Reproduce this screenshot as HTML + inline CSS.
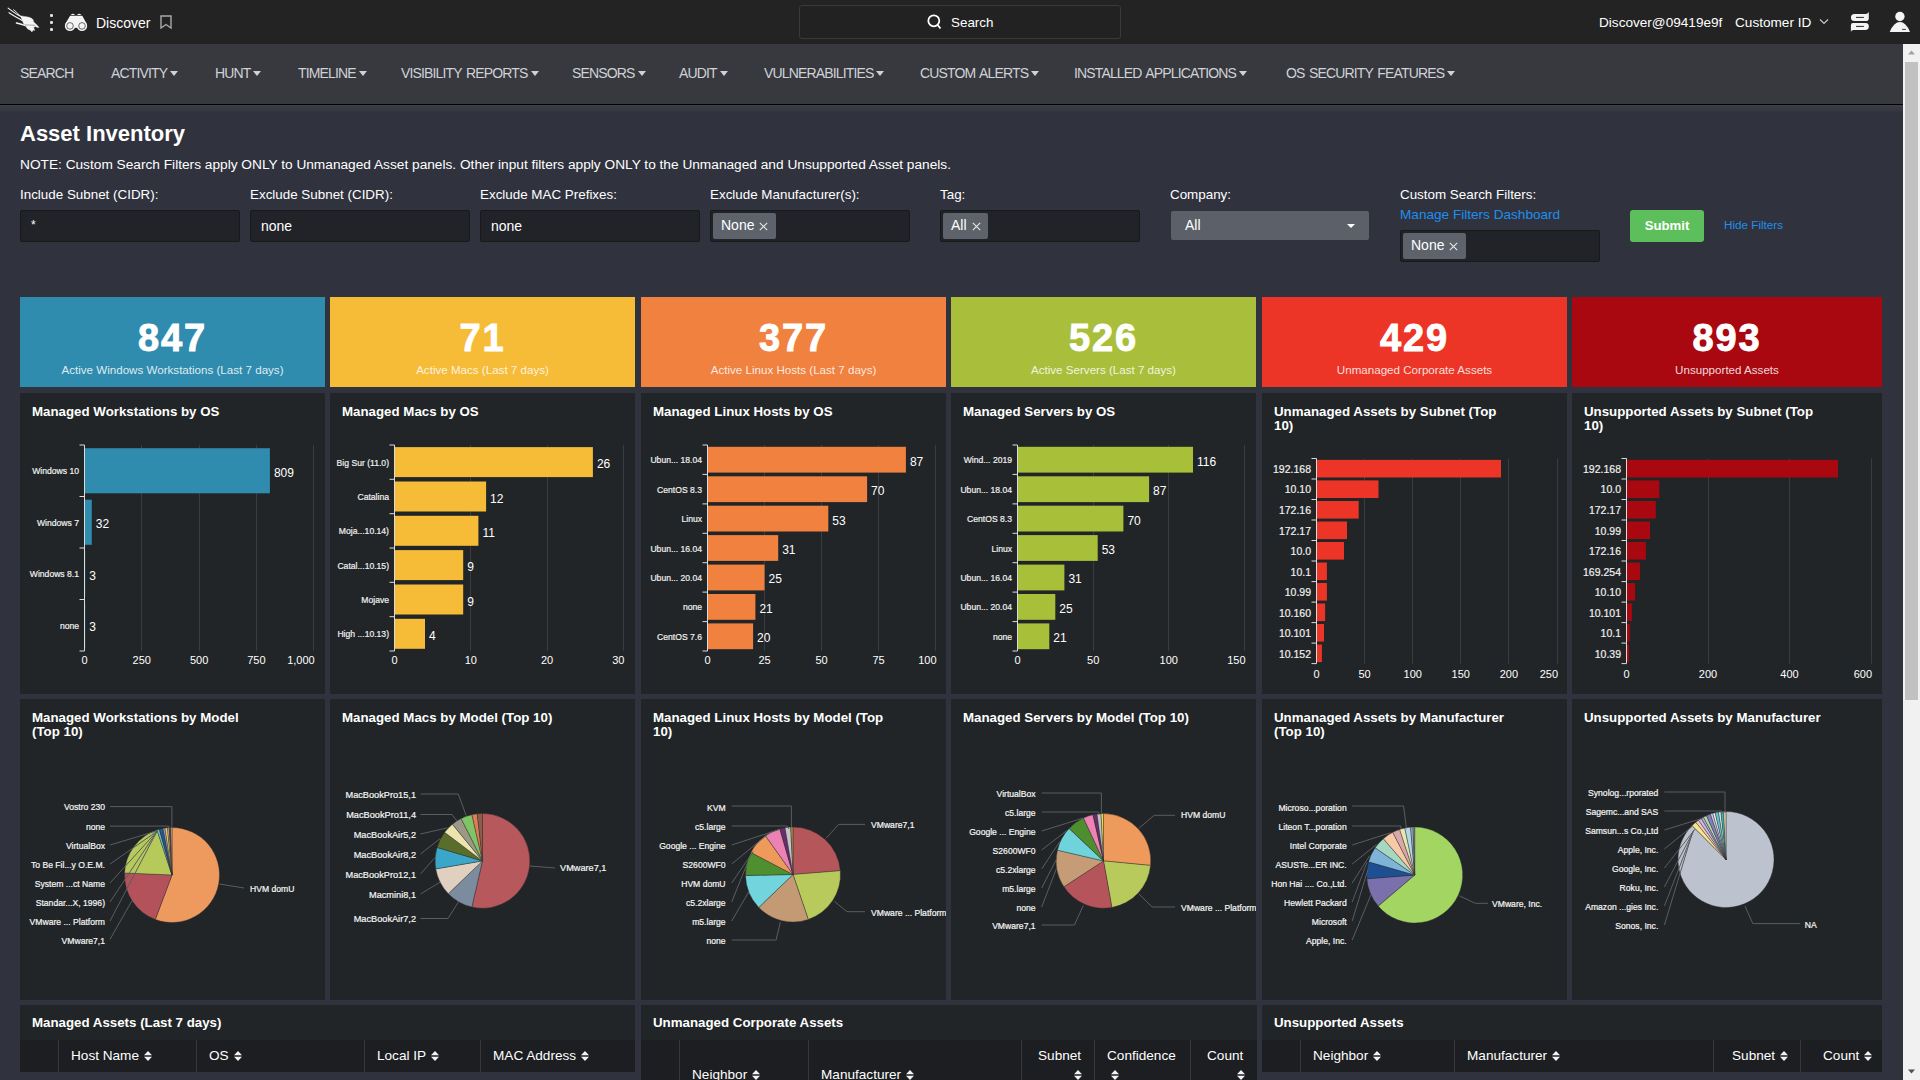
<!DOCTYPE html>
<html><head><meta charset="utf-8"><title>Asset Inventory</title><style>
*{margin:0;padding:0;box-sizing:border-box}
html,body{width:1920px;height:1080px;overflow:hidden;background:#30333e;font-family:"Liberation Sans", sans-serif;color:#fff}
.a{position:absolute}
.top{left:0;top:0;width:1920px;height:44px;background:#232323}
.nav{left:0;top:44px;width:1903px;height:61px;background:#38393e;border-bottom:1px solid #02020a}
.nav span{position:absolute;top:21px;font-size:14px;color:#cfd2d8;white-space:nowrap;letter-spacing:-0.85px;word-spacing:1.5px}
.nav span i{display:inline-block;width:0;height:0;border-left:4px solid transparent;border-right:4px solid transparent;border-top:5px solid #cfd2d8;margin-left:3px;vertical-align:2px}
.lbl{font-size:13.4px;color:#fff;white-space:nowrap}
.inp{background:#212328;border:1px solid #18191b;border-radius:2px}
.tok{background:#5d626b;border-radius:2px;color:#fff;font-size:14px}
.tile{top:297px;height:90px;text-align:center;color:#fff}
.tile b{display:block;font-size:38px;letter-spacing:1.8px;line-height:38px;margin-top:22px;font-weight:bold;-webkit-text-stroke:0.9px #fff}
.tile s{display:block;text-decoration:none;font-size:11.6px;margin-top:6px;color:rgba(255,255,255,0.85)}
.panel{background:#212527}
.pt{position:absolute;left:12px;top:12px;font-size:13.3px;font-weight:bold;line-height:14px;color:#fff;white-space:nowrap}
.th{position:absolute;top:1040px;height:32px;background:#1c1e21}
.th span{position:absolute;top:8px;font-size:13.6px;color:#fff;white-space:nowrap}
.th em{position:absolute;top:0;width:1px;height:32px;background:#34373b}
.srt{display:inline-block;width:8px;height:10px;vertical-align:-0.5px;margin-left:5px}
</style></head>
<body>
<div class="a top"></div>
<svg class="a" style="left:4px;top:4px" width="40" height="32" viewBox="0 0 40 32">
<path d="M4.1,4.1 Q9,7.8 13.3,10.6 Q15.5,11.8 17.4,12.8" stroke="#f4f4f4" stroke-width="1.1" fill="none" stroke-linecap="round"/>
<path d="M9.6,5.7 Q13,8.4 16,11.8 L17.6,13.6" stroke="#f4f4f4" stroke-width="0.9" fill="none" stroke-linecap="round"/>
<path d="M5,8.7 Q9,11.3 13.3,13.8 Q15.8,15.2 17.8,16.4" stroke="#f4f4f4" stroke-width="1.1" fill="none" stroke-linecap="round"/>
<path d="M12.4,19 Q16.5,20 20.7,21.4" stroke="#f4f4f4" stroke-width="1.5" fill="none" stroke-linecap="round"/>
<path d="M16.6,11.9 L20.7,12.4 L25.2,13.3 L27.9,14.5 L29.3,16 L29.5,17.8 L31.1,19.3 L33.2,21.3 L35,23.4 L33.5,23.4 L31.4,22.5 L29.6,23.4 L30.8,26.4 L29.3,26.1 L27.9,27.9 L26.7,26.4 L23.7,24.9 L21.9,22.5 L20.7,21.3 L19.3,19 L17.8,15.4 Z" fill="#f4f4f4" stroke="#f4f4f4" stroke-width="0.4" stroke-linejoin="round"/>
<path d="M20.7,20.9 Q26,21 31.1,21.3" stroke="#555" stroke-width="0.5" fill="none"/>
</svg>
<div class="a" style="left:50px;top:14px;width:3px;height:3px;background:#ddd;border-radius:1px"></div>
<div class="a" style="left:50px;top:21px;width:3px;height:3px;background:#ddd;border-radius:1px"></div>
<div class="a" style="left:50px;top:28px;width:3px;height:3px;background:#ddd;border-radius:1px"></div>
<svg class="a" style="left:60px;top:8px" width="32" height="28" viewBox="0 0 32 28">
<path d="M10.8,7 Q12.9,4.3 15,7Z M17,7 Q19.1,4.3 21.3,7Z" fill="#f4f4f4"/>
<path d="M10.1,7.8 H22.3 L26.5,15.5 L22,21 L16,19.8 L10,21 L5.5,15.5 Z" fill="#f4f4f4"/>
<circle cx="10" cy="17.9" r="5.2" fill="#f4f4f4"/><circle cx="22" cy="17.9" r="5.2" fill="#f4f4f4"/>
<circle cx="10" cy="17.9" r="3.3" fill="none" stroke="#444" stroke-width="0.8"/><circle cx="22" cy="17.9" r="3.3" fill="none" stroke="#444" stroke-width="0.8"/>
</svg>
<div class="a" style="left:96px;top:15px;font-size:14px;color:#fff">Discover</div>
<svg class="a" style="left:160px;top:15px" width="12" height="14" viewBox="0 0 12 14"><path d="M1 1H11V13L6 9.5L1 13Z" fill="none" stroke="#aaa" stroke-width="1.4"/></svg>
<div class="a" style="left:799px;top:5px;width:322px;height:34px;border:1px solid #3a3a3a;border-radius:3px;background:#222222"></div>
<svg class="a" style="left:927px;top:14px" width="15" height="16" viewBox="0 0 15 16"><circle cx="6.8" cy="6.8" r="5.5" fill="none" stroke="#fff" stroke-width="1.8"/><path d="M10.5 10.8L13.5 14.5" stroke="#fff" stroke-width="1.8"/></svg>
<div class="a" style="left:951px;top:15px;font-size:13.4px;color:#fff">Search</div>
<div class="a" style="left:1599px;top:15px;font-size:13.6px;color:#fff">Discover@09419e9f</div>
<div class="a" style="left:1735px;top:15px;font-size:13.6px;color:#fff">Customer ID</div>
<svg class="a" style="left:1819px;top:19px" width="10" height="6" viewBox="0 0 10 6"><path d="M1 0.5L5 4.5L9 0.5" fill="none" stroke="#ccc" stroke-width="1.1"/></svg>
<svg class="a" style="left:1844px;top:6px" width="30" height="30" viewBox="0 0 30 30">
<path d="M10.5,7.9 H22 Q24.3,7.5 24.8,5.8 V12.2 Q24.8,15 22,15 H10.5 A3.55,3.55 0 0 1 10.5,7.9 Z" fill="#f4f4f4"/>
<path d="M12,11.4 H19.9" stroke="#232323" stroke-width="1"/>
<path d="M9,17.1 H21.4 A3.45,3.45 0 0 1 21.4,24 H9.5 Q7.3,24.3 6.9,25.9 V19.3 Q6.9,17.1 9,17.1 Z" fill="#f4f4f4"/>
<path d="M12,20.4 H19.9" stroke="#232323" stroke-width="1"/>
</svg>
<svg class="a" style="left:1884px;top:6px" width="30" height="30" viewBox="0 0 30 30">
<circle cx="15.9" cy="10.5" r="4.7" fill="#f4f4f4"/><path d="M5.7,25.9 Q10,16.1 15.9,16.1 Q21.8,16.1 26,25.9 Z" fill="#f4f4f4"/><path d="M18.1,23.4 H21.9" stroke="#232323" stroke-width="0.9"/>
</svg>
<div class="a nav">
<span style="left:20px">SEARCH</span>
<span style="left:111px">ACTIVITY<i></i></span>
<span style="left:215px">HUNT<i></i></span>
<span style="left:298px">TIMELINE<i></i></span>
<span style="left:401px">VISIBILITY REPORTS<i></i></span>
<span style="left:572px">SENSORS<i></i></span>
<span style="left:679px">AUDIT<i></i></span>
<span style="left:764px">VULNERABILITIES<i></i></span>
<span style="left:920px">CUSTOM ALERTS<i></i></span>
<span style="left:1074px">INSTALLED APPLICATIONS<i></i></span>
<span style="left:1286px">OS SECURITY FEATURES<i></i></span>
</div>
<div class="a" style="left:0;top:105px;width:1903px;height:8px;background:linear-gradient(#3d3e45,#30333e)"></div>
<div class="a" style="left:1903px;top:44px;width:17px;height:1036px;background:#f1f1f1"></div>
<div class="a" style="left:1905px;top:62px;width:13px;height:638px;background:#c1c1c1"></div>
<svg class="a" style="left:1903px;top:44px" width="17" height="17"><path d="M5 10.5L8.5 6.5L12 10.5Z" fill="#a3a3a3"/></svg>
<svg class="a" style="left:1903px;top:1063px" width="17" height="17"><path d="M5 6.5L8.5 10.5L12 6.5Z" fill="#505050"/></svg>
<div class="a" style="left:20px;top:121px;font-size:22px;font-weight:bold;color:#fff">Asset Inventory</div>
<div class="a" style="left:20px;top:157px;font-size:13.7px;color:#fff;white-space:nowrap">NOTE: Custom Search Filters apply ONLY to Unmanaged Asset panels. Other input filters apply ONLY to the Unmanaged and Unsupported Asset panels.</div>
<div class="a lbl" style="left:20px;top:187px">Include Subnet (CIDR):</div>
<div class="a lbl" style="left:250px;top:187px">Exclude Subnet (CIDR):</div>
<div class="a lbl" style="left:480px;top:187px">Exclude MAC Prefixes:</div>
<div class="a lbl" style="left:710px;top:187px">Exclude Manufacturer(s):</div>
<div class="a lbl" style="left:940px;top:187px">Tag:</div>
<div class="a lbl" style="left:1170px;top:187px">Company:</div>
<div class="a lbl" style="left:1400px;top:187px">Custom Search Filters:</div>
<div class="a inp" style="left:20px;top:210px;width:220px;height:32px"></div>
<div class="a" style="left:31px;top:218px;font-size:12px;color:#fff">*</div>
<div class="a inp" style="left:250px;top:210px;width:220px;height:32px"></div>
<div class="a" style="left:261px;top:218px;font-size:14px;color:#fff">none</div>
<div class="a inp" style="left:480px;top:210px;width:220px;height:32px"></div>
<div class="a" style="left:491px;top:218px;font-size:14px;color:#fff">none</div>
<div class="a inp" style="left:710px;top:210px;width:200px;height:32px"></div>
<div class="a tok" style="left:713px;top:213px;width:63px;height:26px;padding:4px 0 0 8px">None<svg width="9" height="9" viewBox="0 0 9 9" style="margin-left:5px;vertical-align:-0.5px"><path d="M0.8 0.8L8.2 8.2M8.2 0.8L0.8 8.2" stroke="#e8e8e8" stroke-width="1.1"/></svg></div>
<div class="a inp" style="left:940px;top:210px;width:200px;height:32px"></div>
<div class="a tok" style="left:943px;top:213px;width:45px;height:26px;padding:4px 0 0 8px">All<svg width="9" height="9" viewBox="0 0 9 9" style="margin-left:5px;vertical-align:-0.5px"><path d="M0.8 0.8L8.2 8.2M8.2 0.8L0.8 8.2" stroke="#e8e8e8" stroke-width="1.1"/></svg></div>
<div class="a" style="left:1171px;top:211px;width:198px;height:29px;background:#5c6068;border-radius:2px"></div>
<div class="a" style="left:1185px;top:217px;font-size:14px;color:#fff">All</div>
<div class="a" style="left:1347px;top:224px;width:0;height:0;border-left:4px solid transparent;border-right:4px solid transparent;border-top:4px solid #fff"></div>
<div class="a" style="left:1400px;top:207px;font-size:13.6px;color:#1d8fee;white-space:nowrap">Manage Filters Dashboard</div>
<div class="a inp" style="left:1400px;top:230px;width:200px;height:32px"></div>
<div class="a tok" style="left:1403px;top:233px;width:63px;height:26px;padding:4px 0 0 8px">None<svg width="9" height="9" viewBox="0 0 9 9" style="margin-left:5px;vertical-align:-0.5px"><path d="M0.8 0.8L8.2 8.2M8.2 0.8L0.8 8.2" stroke="#e8e8e8" stroke-width="1.1"/></svg></div>
<div class="a" style="left:1630px;top:210px;width:74px;height:32px;background:#5cbf5b;border-radius:3px;color:#fff;font-weight:bold;font-size:13.2px;text-align:center;line-height:32px">Submit</div>
<div class="a" style="left:1724px;top:218px;font-size:11.7px;color:#1d8fee">Hide Filters</div>
<div class="a tile" style="left:20px;width:305px;background:#2f8cae"><b>847</b><s>Active Windows Workstations (Last 7 days)</s></div>
<div class="a tile" style="left:330px;width:305px;background:#f6bb37"><b>71</b><s>Active Macs (Last 7 days)</s></div>
<div class="a tile" style="left:641px;width:305px;background:#f1813f"><b>377</b><s>Active Linux Hosts (Last 7 days)</s></div>
<div class="a tile" style="left:951px;width:305px;background:#a9bf3b"><b>526</b><s>Active Servers (Last 7 days)</s></div>
<div class="a tile" style="left:1262px;width:305px;background:#ec3526"><b>429</b><s>Unmanaged Corporate Assets</s></div>
<div class="a tile" style="left:1572px;width:310px;background:#aa0810"><b>893</b><s>Unsupported Assets</s></div>
<div class="a panel" style="left:20px;top:393px;width:305px;height:301px"><div class="pt">Managed Workstations by OS</div></div>
<div class="a panel" style="left:330px;top:393px;width:305px;height:301px"><div class="pt">Managed Macs by OS</div></div>
<div class="a panel" style="left:641px;top:393px;width:305px;height:301px"><div class="pt">Managed Linux Hosts by OS</div></div>
<div class="a panel" style="left:951px;top:393px;width:305px;height:301px"><div class="pt">Managed Servers by OS</div></div>
<div class="a panel" style="left:1262px;top:393px;width:305px;height:301px"><div class="pt">Unmanaged Assets by Subnet (Top<br>10)</div></div>
<div class="a panel" style="left:1572px;top:393px;width:310px;height:301px"><div class="pt">Unsupported Assets by Subnet (Top<br>10)</div></div>
<div class="a panel" style="left:20px;top:699px;width:305px;height:301px"><div class="pt">Managed Workstations by Model<br>(Top 10)</div></div>
<div class="a panel" style="left:330px;top:699px;width:305px;height:301px"><div class="pt">Managed Macs by Model (Top 10)</div></div>
<div class="a panel" style="left:641px;top:699px;width:305px;height:301px"><div class="pt">Managed Linux Hosts by Model (Top<br>10)</div></div>
<div class="a panel" style="left:951px;top:699px;width:305px;height:301px"><div class="pt">Managed Servers by Model (Top 10)</div></div>
<div class="a panel" style="left:1262px;top:699px;width:305px;height:301px"><div class="pt">Unmanaged Assets by Manufacturer<br>(Top 10)</div></div>
<div class="a panel" style="left:1572px;top:699px;width:310px;height:301px"><div class="pt">Unsupported Assets by Manufacturer</div></div>
<div class="a panel" style="left:20px;top:1005px;width:615px;height:35px"><div class="pt" style="top:11px">Managed Assets (Last 7 days)</div></div>
<div class="a panel" style="left:641px;top:1005px;width:616px;height:35px"><div class="pt" style="top:11px">Unmanaged Corporate Assets</div></div>
<div class="a panel" style="left:1262px;top:1005px;width:620px;height:35px"><div class="pt" style="top:11px">Unsupported Assets</div></div>
<div class="th" style="left:20px;width:615px"><em style="left:38px"></em><em style="left:176px"></em><em style="left:344px"></em><em style="left:460px"></em><span style="left:51px">Host Name<svg class="srt" viewBox="0 0 8 10"><path d="M4 0L8 4.3H0Z M4 10L8 5.7H0Z" fill="#f2f2f2"/></svg></span><span style="left:189px">OS<svg class="srt" viewBox="0 0 8 10"><path d="M4 0L8 4.3H0Z M4 10L8 5.7H0Z" fill="#f2f2f2"/></svg></span><span style="left:357px">Local IP<svg class="srt" viewBox="0 0 8 10"><path d="M4 0L8 4.3H0Z M4 10L8 5.7H0Z" fill="#f2f2f2"/></svg></span><span style="left:473px">MAC Address<svg class="srt" viewBox="0 0 8 10"><path d="M4 0L8 4.3H0Z M4 10L8 5.7H0Z" fill="#f2f2f2"/></svg></span></div>
<div class="th" style="left:641px;width:616px;height:40px"><em style="left:38px;height:40px"></em><em style="left:167px;height:40px"></em><em style="left:380px;height:40px"></em><em style="left:453px;height:40px"></em><em style="left:549px;height:40px"></em><span style="left:51px;top:27px">Neighbor<svg class="srt" viewBox="0 0 8 10"><path d="M4 0L8 4.3H0Z M4 10L8 5.7H0Z" fill="#f2f2f2"/></svg></span><span style="left:180px;top:27px">Manufacturer<svg class="srt" viewBox="0 0 8 10"><path d="M4 0L8 4.3H0Z M4 10L8 5.7H0Z" fill="#f2f2f2"/></svg></span><span style="left:397px">Subnet</span><span style="left:466px">Confidence</span><span style="left:566px">Count</span><svg style="position:absolute;left:433px;top:30px" width="8" height="10" viewBox="0 0 8 10"><path d="M4 0L8 4.3H0Z M4 10L8 5.7H0Z" fill="#f2f2f2"/></svg><svg style="position:absolute;left:470px;top:30px" width="8" height="10" viewBox="0 0 8 10"><path d="M4 0L8 4.3H0Z M4 10L8 5.7H0Z" fill="#f2f2f2"/></svg><svg style="position:absolute;left:596px;top:30px" width="8" height="10" viewBox="0 0 8 10"><path d="M4 0L8 4.3H0Z M4 10L8 5.7H0Z" fill="#f2f2f2"/></svg></div>
<div class="th" style="left:1262px;width:620px"><em style="left:38px"></em><em style="left:192px"></em><em style="left:451px"></em><em style="left:538px"></em><span style="left:51px">Neighbor<svg class="srt" viewBox="0 0 8 10"><path d="M4 0L8 4.3H0Z M4 10L8 5.7H0Z" fill="#f2f2f2"/></svg></span><span style="left:205px">Manufacturer<svg class="srt" viewBox="0 0 8 10"><path d="M4 0L8 4.3H0Z M4 10L8 5.7H0Z" fill="#f2f2f2"/></svg></span><span style="left:470px">Subnet<svg class="srt" viewBox="0 0 8 10"><path d="M4 0L8 4.3H0Z M4 10L8 5.7H0Z" fill="#f2f2f2"/></svg></span><span style="left:561px">Count<svg class="srt" viewBox="0 0 8 10"><path d="M4 0L8 4.3H0Z M4 10L8 5.7H0Z" fill="#f2f2f2"/></svg></span></div>
<svg class="a" style="left:0;top:0;font-family:"Liberation Sans", sans-serif" width="1903" height="1080"><line x1="141.5" y1="445.0" x2="141.5" y2="651.0" stroke="#3a3d40" stroke-width="1"/><line x1="199.5" y1="445.0" x2="199.5" y2="651.0" stroke="#3a3d40" stroke-width="1"/><line x1="256.5" y1="445.0" x2="256.5" y2="651.0" stroke="#3a3d40" stroke-width="1"/><line x1="313.5" y1="445.0" x2="313.5" y2="651.0" stroke="#3a3d40" stroke-width="1"/><rect x="84.5" y="448.2" width="185.4" height="45.1" fill="#2f8cae"/><text x="79.0" y="474.3" font-size="8.6" fill="#f0f0f0" font-weight="normal" text-anchor="end" stroke="#f0f0f0" stroke-width="0.2">Windows 10</text><text x="273.9" y="476.8" font-size="12" fill="#fff" font-weight="normal" text-anchor="start" >809</text><rect x="84.5" y="499.7" width="7.3" height="45.1" fill="#2f8cae"/><text x="79.0" y="525.8" font-size="8.6" fill="#f0f0f0" font-weight="normal" text-anchor="end" stroke="#f0f0f0" stroke-width="0.2">Windows 7</text><text x="95.8" y="528.2" font-size="12" fill="#fff" font-weight="normal" text-anchor="start" >32</text><rect x="84.5" y="551.2" width="0.7" height="45.1" fill="#2f8cae"/><text x="79.0" y="577.3" font-size="8.6" fill="#f0f0f0" font-weight="normal" text-anchor="end" stroke="#f0f0f0" stroke-width="0.2">Windows 8.1</text><text x="89.2" y="579.8" font-size="12" fill="#fff" font-weight="normal" text-anchor="start" >3</text><rect x="84.5" y="602.7" width="0.7" height="45.1" fill="#2f8cae"/><text x="79.0" y="628.8" font-size="8.6" fill="#f0f0f0" font-weight="normal" text-anchor="end" stroke="#f0f0f0" stroke-width="0.2">none</text><text x="89.2" y="631.2" font-size="12" fill="#fff" font-weight="normal" text-anchor="start" >3</text><line x1="84.5" y1="445.0" x2="84.5" y2="651.0" stroke="#dcdcdc" stroke-width="1"/><line x1="79.5" y1="445.0" x2="84.5" y2="445.0" stroke="#dcdcdc" stroke-width="1"/><line x1="79.5" y1="496.5" x2="84.5" y2="496.5" stroke="#dcdcdc" stroke-width="1"/><line x1="79.5" y1="548.0" x2="84.5" y2="548.0" stroke="#dcdcdc" stroke-width="1"/><line x1="79.5" y1="599.5" x2="84.5" y2="599.5" stroke="#dcdcdc" stroke-width="1"/><line x1="79.5" y1="651.0" x2="84.5" y2="651.0" stroke="#dcdcdc" stroke-width="1"/><text x="84.5" y="664.0" font-size="11" fill="#fff" font-weight="normal" text-anchor="middle" >0</text><text x="141.8" y="664.0" font-size="11" fill="#fff" font-weight="normal" text-anchor="middle" >250</text><text x="199.1" y="664.0" font-size="11" fill="#fff" font-weight="normal" text-anchor="middle" >500</text><text x="256.4" y="664.0" font-size="11" fill="#fff" font-weight="normal" text-anchor="middle" >750</text><text x="314.7" y="664.0" font-size="11" fill="#fff" font-weight="normal" text-anchor="end" >1,000</text><line x1="470.5" y1="445.0" x2="470.5" y2="651.0" stroke="#3a3d40" stroke-width="1"/><line x1="547.5" y1="445.0" x2="547.5" y2="651.0" stroke="#3a3d40" stroke-width="1"/><line x1="623.5" y1="445.0" x2="623.5" y2="651.0" stroke="#3a3d40" stroke-width="1"/><rect x="394.5" y="447.1" width="198.4" height="30.0" fill="#f6bb37"/><text x="389.0" y="465.7" font-size="8.6" fill="#f0f0f0" font-weight="normal" text-anchor="end" stroke="#f0f0f0" stroke-width="0.2">Big Sur (11.0)</text><text x="596.9" y="468.2" font-size="12" fill="#fff" font-weight="normal" text-anchor="start" >26</text><rect x="394.5" y="481.5" width="91.6" height="30.0" fill="#f6bb37"/><text x="389.0" y="500.0" font-size="8.6" fill="#f0f0f0" font-weight="normal" text-anchor="end" stroke="#f0f0f0" stroke-width="0.2">Catalina</text><text x="490.1" y="502.5" font-size="12" fill="#fff" font-weight="normal" text-anchor="start" >12</text><rect x="394.5" y="515.8" width="83.9" height="30.0" fill="#f6bb37"/><text x="389.0" y="534.3" font-size="8.6" fill="#f0f0f0" font-weight="normal" text-anchor="end" stroke="#f0f0f0" stroke-width="0.2">Moja...10.14)</text><text x="482.4" y="536.8" font-size="12" fill="#fff" font-weight="normal" text-anchor="start" >11</text><rect x="394.5" y="550.1" width="68.7" height="30.0" fill="#f6bb37"/><text x="389.0" y="568.7" font-size="8.6" fill="#f0f0f0" font-weight="normal" text-anchor="end" stroke="#f0f0f0" stroke-width="0.2">Catal...10.15)</text><text x="467.2" y="571.2" font-size="12" fill="#fff" font-weight="normal" text-anchor="start" >9</text><rect x="394.5" y="584.5" width="68.7" height="30.0" fill="#f6bb37"/><text x="389.0" y="603.0" font-size="8.6" fill="#f0f0f0" font-weight="normal" text-anchor="end" stroke="#f0f0f0" stroke-width="0.2">Mojave</text><text x="467.2" y="605.5" font-size="12" fill="#fff" font-weight="normal" text-anchor="start" >9</text><rect x="394.5" y="618.8" width="30.5" height="30.0" fill="#f6bb37"/><text x="389.0" y="637.3" font-size="8.6" fill="#f0f0f0" font-weight="normal" text-anchor="end" stroke="#f0f0f0" stroke-width="0.2">High ...10.13)</text><text x="429.0" y="639.8" font-size="12" fill="#fff" font-weight="normal" text-anchor="start" >4</text><line x1="394.5" y1="445.0" x2="394.5" y2="651.0" stroke="#dcdcdc" stroke-width="1"/><line x1="389.5" y1="445.0" x2="394.5" y2="445.0" stroke="#dcdcdc" stroke-width="1"/><line x1="389.5" y1="479.3" x2="394.5" y2="479.3" stroke="#dcdcdc" stroke-width="1"/><line x1="389.5" y1="513.7" x2="394.5" y2="513.7" stroke="#dcdcdc" stroke-width="1"/><line x1="389.5" y1="548.0" x2="394.5" y2="548.0" stroke="#dcdcdc" stroke-width="1"/><line x1="389.5" y1="582.3" x2="394.5" y2="582.3" stroke="#dcdcdc" stroke-width="1"/><line x1="389.5" y1="616.7" x2="394.5" y2="616.7" stroke="#dcdcdc" stroke-width="1"/><line x1="389.5" y1="651.0" x2="394.5" y2="651.0" stroke="#dcdcdc" stroke-width="1"/><text x="394.5" y="664.0" font-size="11" fill="#fff" font-weight="normal" text-anchor="middle" >0</text><text x="470.8" y="664.0" font-size="11" fill="#fff" font-weight="normal" text-anchor="middle" >10</text><text x="547.1" y="664.0" font-size="11" fill="#fff" font-weight="normal" text-anchor="middle" >20</text><text x="624.4" y="664.0" font-size="11" fill="#fff" font-weight="normal" text-anchor="end" >30</text><line x1="764.5" y1="445.0" x2="764.5" y2="651.0" stroke="#3a3d40" stroke-width="1"/><line x1="821.5" y1="445.0" x2="821.5" y2="651.0" stroke="#3a3d40" stroke-width="1"/><line x1="878.5" y1="445.0" x2="878.5" y2="651.0" stroke="#3a3d40" stroke-width="1"/><line x1="935.5" y1="445.0" x2="935.5" y2="651.0" stroke="#3a3d40" stroke-width="1"/><rect x="707.5" y="446.8" width="198.4" height="25.8" fill="#f1813f"/><text x="702.0" y="463.2" font-size="8.6" fill="#f0f0f0" font-weight="normal" text-anchor="end" stroke="#f0f0f0" stroke-width="0.2">Ubun... 18.04</text><text x="909.9" y="465.7" font-size="12" fill="#fff" font-weight="normal" text-anchor="start" >87</text><rect x="707.5" y="476.3" width="159.6" height="25.8" fill="#f1813f"/><text x="702.0" y="492.7" font-size="8.6" fill="#f0f0f0" font-weight="normal" text-anchor="end" stroke="#f0f0f0" stroke-width="0.2">CentOS 8.3</text><text x="871.1" y="495.1" font-size="12" fill="#fff" font-weight="normal" text-anchor="start" >70</text><rect x="707.5" y="505.7" width="120.8" height="25.8" fill="#f1813f"/><text x="702.0" y="522.1" font-size="8.6" fill="#f0f0f0" font-weight="normal" text-anchor="end" stroke="#f0f0f0" stroke-width="0.2">Linux</text><text x="832.3" y="524.6" font-size="12" fill="#fff" font-weight="normal" text-anchor="start" >53</text><rect x="707.5" y="535.1" width="70.7" height="25.8" fill="#f1813f"/><text x="702.0" y="551.5" font-size="8.6" fill="#f0f0f0" font-weight="normal" text-anchor="end" stroke="#f0f0f0" stroke-width="0.2">Ubun... 16.04</text><text x="782.2" y="554.0" font-size="12" fill="#fff" font-weight="normal" text-anchor="start" >31</text><rect x="707.5" y="564.6" width="57.0" height="25.8" fill="#f1813f"/><text x="702.0" y="580.9" font-size="8.6" fill="#f0f0f0" font-weight="normal" text-anchor="end" stroke="#f0f0f0" stroke-width="0.2">Ubun... 20.04</text><text x="768.5" y="583.4" font-size="12" fill="#fff" font-weight="normal" text-anchor="start" >25</text><rect x="707.5" y="594.0" width="47.9" height="25.8" fill="#f1813f"/><text x="702.0" y="610.4" font-size="8.6" fill="#f0f0f0" font-weight="normal" text-anchor="end" stroke="#f0f0f0" stroke-width="0.2">none</text><text x="759.4" y="612.9" font-size="12" fill="#fff" font-weight="normal" text-anchor="start" >21</text><rect x="707.5" y="623.4" width="45.6" height="25.8" fill="#f1813f"/><text x="702.0" y="639.8" font-size="8.6" fill="#f0f0f0" font-weight="normal" text-anchor="end" stroke="#f0f0f0" stroke-width="0.2">CentOS 7.6</text><text x="757.1" y="642.3" font-size="12" fill="#fff" font-weight="normal" text-anchor="start" >20</text><line x1="707.5" y1="445.0" x2="707.5" y2="651.0" stroke="#dcdcdc" stroke-width="1"/><line x1="702.5" y1="445.0" x2="707.5" y2="445.0" stroke="#dcdcdc" stroke-width="1"/><line x1="702.5" y1="474.4" x2="707.5" y2="474.4" stroke="#dcdcdc" stroke-width="1"/><line x1="702.5" y1="503.9" x2="707.5" y2="503.9" stroke="#dcdcdc" stroke-width="1"/><line x1="702.5" y1="533.3" x2="707.5" y2="533.3" stroke="#dcdcdc" stroke-width="1"/><line x1="702.5" y1="562.7" x2="707.5" y2="562.7" stroke="#dcdcdc" stroke-width="1"/><line x1="702.5" y1="592.1" x2="707.5" y2="592.1" stroke="#dcdcdc" stroke-width="1"/><line x1="702.5" y1="621.6" x2="707.5" y2="621.6" stroke="#dcdcdc" stroke-width="1"/><line x1="702.5" y1="651.0" x2="707.5" y2="651.0" stroke="#dcdcdc" stroke-width="1"/><text x="707.5" y="664.0" font-size="11" fill="#fff" font-weight="normal" text-anchor="middle" >0</text><text x="764.5" y="664.0" font-size="11" fill="#fff" font-weight="normal" text-anchor="middle" >25</text><text x="821.5" y="664.0" font-size="11" fill="#fff" font-weight="normal" text-anchor="middle" >50</text><text x="878.5" y="664.0" font-size="11" fill="#fff" font-weight="normal" text-anchor="middle" >75</text><text x="936.5" y="664.0" font-size="11" fill="#fff" font-weight="normal" text-anchor="end" >100</text><line x1="1093.5" y1="445.0" x2="1093.5" y2="651.0" stroke="#3a3d40" stroke-width="1"/><line x1="1168.5" y1="445.0" x2="1168.5" y2="651.0" stroke="#3a3d40" stroke-width="1"/><line x1="1244.5" y1="445.0" x2="1244.5" y2="651.0" stroke="#3a3d40" stroke-width="1"/><rect x="1017.5" y="446.8" width="175.5" height="25.8" fill="#a8bf3a"/><text x="1012.0" y="463.2" font-size="8.6" fill="#f0f0f0" font-weight="normal" text-anchor="end" stroke="#f0f0f0" stroke-width="0.2">Wind... 2019</text><text x="1197.0" y="465.7" font-size="12" fill="#fff" font-weight="normal" text-anchor="start" >116</text><rect x="1017.5" y="476.3" width="131.6" height="25.8" fill="#a8bf3a"/><text x="1012.0" y="492.7" font-size="8.6" fill="#f0f0f0" font-weight="normal" text-anchor="end" stroke="#f0f0f0" stroke-width="0.2">Ubun... 18.04</text><text x="1153.1" y="495.1" font-size="12" fill="#fff" font-weight="normal" text-anchor="start" >87</text><rect x="1017.5" y="505.7" width="105.9" height="25.8" fill="#a8bf3a"/><text x="1012.0" y="522.1" font-size="8.6" fill="#f0f0f0" font-weight="normal" text-anchor="end" stroke="#f0f0f0" stroke-width="0.2">CentOS 8.3</text><text x="1127.4" y="524.6" font-size="12" fill="#fff" font-weight="normal" text-anchor="start" >70</text><rect x="1017.5" y="535.1" width="80.2" height="25.8" fill="#a8bf3a"/><text x="1012.0" y="551.5" font-size="8.6" fill="#f0f0f0" font-weight="normal" text-anchor="end" stroke="#f0f0f0" stroke-width="0.2">Linux</text><text x="1101.7" y="554.0" font-size="12" fill="#fff" font-weight="normal" text-anchor="start" >53</text><rect x="1017.5" y="564.6" width="46.9" height="25.8" fill="#a8bf3a"/><text x="1012.0" y="580.9" font-size="8.6" fill="#f0f0f0" font-weight="normal" text-anchor="end" stroke="#f0f0f0" stroke-width="0.2">Ubun... 16.04</text><text x="1068.4" y="583.4" font-size="12" fill="#fff" font-weight="normal" text-anchor="start" >31</text><rect x="1017.5" y="594.0" width="37.8" height="25.8" fill="#a8bf3a"/><text x="1012.0" y="610.4" font-size="8.6" fill="#f0f0f0" font-weight="normal" text-anchor="end" stroke="#f0f0f0" stroke-width="0.2">Ubun... 20.04</text><text x="1059.3" y="612.9" font-size="12" fill="#fff" font-weight="normal" text-anchor="start" >25</text><rect x="1017.5" y="623.4" width="31.8" height="25.8" fill="#a8bf3a"/><text x="1012.0" y="639.8" font-size="8.6" fill="#f0f0f0" font-weight="normal" text-anchor="end" stroke="#f0f0f0" stroke-width="0.2">none</text><text x="1053.3" y="642.3" font-size="12" fill="#fff" font-weight="normal" text-anchor="start" >21</text><line x1="1017.5" y1="445.0" x2="1017.5" y2="651.0" stroke="#dcdcdc" stroke-width="1"/><line x1="1012.5" y1="445.0" x2="1017.5" y2="445.0" stroke="#dcdcdc" stroke-width="1"/><line x1="1012.5" y1="474.4" x2="1017.5" y2="474.4" stroke="#dcdcdc" stroke-width="1"/><line x1="1012.5" y1="503.9" x2="1017.5" y2="503.9" stroke="#dcdcdc" stroke-width="1"/><line x1="1012.5" y1="533.3" x2="1017.5" y2="533.3" stroke="#dcdcdc" stroke-width="1"/><line x1="1012.5" y1="562.7" x2="1017.5" y2="562.7" stroke="#dcdcdc" stroke-width="1"/><line x1="1012.5" y1="592.1" x2="1017.5" y2="592.1" stroke="#dcdcdc" stroke-width="1"/><line x1="1012.5" y1="621.6" x2="1017.5" y2="621.6" stroke="#dcdcdc" stroke-width="1"/><line x1="1012.5" y1="651.0" x2="1017.5" y2="651.0" stroke="#dcdcdc" stroke-width="1"/><text x="1017.5" y="664.0" font-size="11" fill="#fff" font-weight="normal" text-anchor="middle" >0</text><text x="1093.2" y="664.0" font-size="11" fill="#fff" font-weight="normal" text-anchor="middle" >50</text><text x="1168.8" y="664.0" font-size="11" fill="#fff" font-weight="normal" text-anchor="middle" >100</text><text x="1245.5" y="664.0" font-size="11" fill="#fff" font-weight="normal" text-anchor="end" >150</text><line x1="1364.5" y1="458.5" x2="1364.5" y2="663.6" stroke="#3a3d40" stroke-width="1"/><line x1="1412.5" y1="458.5" x2="1412.5" y2="663.6" stroke="#3a3d40" stroke-width="1"/><line x1="1460.5" y1="458.5" x2="1460.5" y2="663.6" stroke="#3a3d40" stroke-width="1"/><line x1="1508.5" y1="458.5" x2="1508.5" y2="663.6" stroke="#3a3d40" stroke-width="1"/><line x1="1557.5" y1="458.5" x2="1557.5" y2="663.6" stroke="#3a3d40" stroke-width="1"/><rect x="1316.5" y="459.9" width="184.5" height="17.6" fill="#ec3526"/><text x="1311.0" y="472.9" font-size="10.5" fill="#f0f0f0" font-weight="normal" text-anchor="end" stroke="#f0f0f0" stroke-width="0.2">192.168</text><rect x="1316.5" y="480.4" width="62.0" height="17.6" fill="#ec3526"/><text x="1311.0" y="493.4" font-size="10.5" fill="#f0f0f0" font-weight="normal" text-anchor="end" stroke="#f0f0f0" stroke-width="0.2">10.10</text><rect x="1316.5" y="501.0" width="42.2" height="17.6" fill="#ec3526"/><text x="1311.0" y="513.9" font-size="10.5" fill="#f0f0f0" font-weight="normal" text-anchor="end" stroke="#f0f0f0" stroke-width="0.2">172.16</text><rect x="1316.5" y="521.5" width="30.5" height="17.6" fill="#ec3526"/><text x="1311.0" y="534.5" font-size="10.5" fill="#f0f0f0" font-weight="normal" text-anchor="end" stroke="#f0f0f0" stroke-width="0.2">172.17</text><rect x="1316.5" y="542.0" width="27.5" height="17.6" fill="#ec3526"/><text x="1311.0" y="555.0" font-size="10.5" fill="#f0f0f0" font-weight="normal" text-anchor="end" stroke="#f0f0f0" stroke-width="0.2">10.0</text><rect x="1316.5" y="562.5" width="10.4" height="17.6" fill="#ec3526"/><text x="1311.0" y="575.5" font-size="10.5" fill="#f0f0f0" font-weight="normal" text-anchor="end" stroke="#f0f0f0" stroke-width="0.2">10.1</text><rect x="1316.5" y="583.0" width="10.4" height="17.6" fill="#ec3526"/><text x="1311.0" y="596.0" font-size="10.5" fill="#f0f0f0" font-weight="normal" text-anchor="end" stroke="#f0f0f0" stroke-width="0.2">10.99</text><rect x="1316.5" y="603.5" width="8.6" height="17.6" fill="#ec3526"/><text x="1311.0" y="616.5" font-size="10.5" fill="#f0f0f0" font-weight="normal" text-anchor="end" stroke="#f0f0f0" stroke-width="0.2">10.160</text><rect x="1316.5" y="624.0" width="7.5" height="17.6" fill="#ec3526"/><text x="1311.0" y="637.0" font-size="10.5" fill="#f0f0f0" font-weight="normal" text-anchor="end" stroke="#f0f0f0" stroke-width="0.2">10.101</text><rect x="1316.5" y="644.5" width="5.4" height="17.6" fill="#ec3526"/><text x="1311.0" y="657.5" font-size="10.5" fill="#f0f0f0" font-weight="normal" text-anchor="end" stroke="#f0f0f0" stroke-width="0.2">10.152</text><line x1="1316.5" y1="458.5" x2="1316.5" y2="663.6" stroke="#dcdcdc" stroke-width="1"/><line x1="1311.5" y1="458.5" x2="1316.5" y2="458.5" stroke="#dcdcdc" stroke-width="1"/><line x1="1311.5" y1="479.0" x2="1316.5" y2="479.0" stroke="#dcdcdc" stroke-width="1"/><line x1="1311.5" y1="499.5" x2="1316.5" y2="499.5" stroke="#dcdcdc" stroke-width="1"/><line x1="1311.5" y1="520.0" x2="1316.5" y2="520.0" stroke="#dcdcdc" stroke-width="1"/><line x1="1311.5" y1="540.5" x2="1316.5" y2="540.5" stroke="#dcdcdc" stroke-width="1"/><line x1="1311.5" y1="561.0" x2="1316.5" y2="561.0" stroke="#dcdcdc" stroke-width="1"/><line x1="1311.5" y1="581.6" x2="1316.5" y2="581.6" stroke="#dcdcdc" stroke-width="1"/><line x1="1311.5" y1="602.1" x2="1316.5" y2="602.1" stroke="#dcdcdc" stroke-width="1"/><line x1="1311.5" y1="622.6" x2="1316.5" y2="622.6" stroke="#dcdcdc" stroke-width="1"/><line x1="1311.5" y1="643.1" x2="1316.5" y2="643.1" stroke="#dcdcdc" stroke-width="1"/><line x1="1311.5" y1="663.6" x2="1316.5" y2="663.6" stroke="#dcdcdc" stroke-width="1"/><text x="1316.5" y="678.0" font-size="11" fill="#fff" font-weight="normal" text-anchor="middle" >0</text><text x="1364.6" y="678.0" font-size="11" fill="#fff" font-weight="normal" text-anchor="middle" >50</text><text x="1412.7" y="678.0" font-size="11" fill="#fff" font-weight="normal" text-anchor="middle" >100</text><text x="1460.8" y="678.0" font-size="11" fill="#fff" font-weight="normal" text-anchor="middle" >150</text><text x="1508.9" y="678.0" font-size="11" fill="#fff" font-weight="normal" text-anchor="middle" >200</text><text x="1558.0" y="678.0" font-size="11" fill="#fff" font-weight="normal" text-anchor="end" >250</text><line x1="1708.5" y1="458.5" x2="1708.5" y2="663.6" stroke="#3a3d40" stroke-width="1"/><line x1="1789.5" y1="458.5" x2="1789.5" y2="663.6" stroke="#3a3d40" stroke-width="1"/><line x1="1871.5" y1="458.5" x2="1871.5" y2="663.6" stroke="#3a3d40" stroke-width="1"/><rect x="1626.5" y="459.9" width="211.5" height="17.6" fill="#aa0810"/><text x="1621.0" y="472.9" font-size="10.5" fill="#f0f0f0" font-weight="normal" text-anchor="end" stroke="#f0f0f0" stroke-width="0.2">192.168</text><rect x="1626.5" y="480.4" width="32.8" height="17.6" fill="#aa0810"/><text x="1621.0" y="493.4" font-size="10.5" fill="#f0f0f0" font-weight="normal" text-anchor="end" stroke="#f0f0f0" stroke-width="0.2">10.0</text><rect x="1626.5" y="501.0" width="29.3" height="17.6" fill="#aa0810"/><text x="1621.0" y="513.9" font-size="10.5" fill="#f0f0f0" font-weight="normal" text-anchor="end" stroke="#f0f0f0" stroke-width="0.2">172.17</text><rect x="1626.5" y="521.5" width="23.5" height="17.6" fill="#aa0810"/><text x="1621.0" y="534.5" font-size="10.5" fill="#f0f0f0" font-weight="normal" text-anchor="end" stroke="#f0f0f0" stroke-width="0.2">10.99</text><rect x="1626.5" y="542.0" width="19.4" height="17.6" fill="#aa0810"/><text x="1621.0" y="555.0" font-size="10.5" fill="#f0f0f0" font-weight="normal" text-anchor="end" stroke="#f0f0f0" stroke-width="0.2">172.16</text><rect x="1626.5" y="562.5" width="13.5" height="17.6" fill="#aa0810"/><text x="1621.0" y="575.5" font-size="10.5" fill="#f0f0f0" font-weight="normal" text-anchor="end" stroke="#f0f0f0" stroke-width="0.2">169.254</text><rect x="1626.5" y="583.0" width="8.6" height="17.6" fill="#aa0810"/><text x="1621.0" y="596.0" font-size="10.5" fill="#f0f0f0" font-weight="normal" text-anchor="end" stroke="#f0f0f0" stroke-width="0.2">10.10</text><rect x="1626.5" y="603.5" width="5.4" height="17.6" fill="#aa0810"/><text x="1621.0" y="616.5" font-size="10.5" fill="#f0f0f0" font-weight="normal" text-anchor="end" stroke="#f0f0f0" stroke-width="0.2">10.101</text><rect x="1626.5" y="624.0" width="3.4" height="17.6" fill="#aa0810"/><text x="1621.0" y="637.0" font-size="10.5" fill="#f0f0f0" font-weight="normal" text-anchor="end" stroke="#f0f0f0" stroke-width="0.2">10.1</text><rect x="1626.5" y="644.5" width="2.5" height="17.6" fill="#aa0810"/><text x="1621.0" y="657.5" font-size="10.5" fill="#f0f0f0" font-weight="normal" text-anchor="end" stroke="#f0f0f0" stroke-width="0.2">10.39</text><line x1="1626.5" y1="458.5" x2="1626.5" y2="663.6" stroke="#dcdcdc" stroke-width="1"/><line x1="1621.5" y1="458.5" x2="1626.5" y2="458.5" stroke="#dcdcdc" stroke-width="1"/><line x1="1621.5" y1="479.0" x2="1626.5" y2="479.0" stroke="#dcdcdc" stroke-width="1"/><line x1="1621.5" y1="499.5" x2="1626.5" y2="499.5" stroke="#dcdcdc" stroke-width="1"/><line x1="1621.5" y1="520.0" x2="1626.5" y2="520.0" stroke="#dcdcdc" stroke-width="1"/><line x1="1621.5" y1="540.5" x2="1626.5" y2="540.5" stroke="#dcdcdc" stroke-width="1"/><line x1="1621.5" y1="561.0" x2="1626.5" y2="561.0" stroke="#dcdcdc" stroke-width="1"/><line x1="1621.5" y1="581.6" x2="1626.5" y2="581.6" stroke="#dcdcdc" stroke-width="1"/><line x1="1621.5" y1="602.1" x2="1626.5" y2="602.1" stroke="#dcdcdc" stroke-width="1"/><line x1="1621.5" y1="622.6" x2="1626.5" y2="622.6" stroke="#dcdcdc" stroke-width="1"/><line x1="1621.5" y1="643.1" x2="1626.5" y2="643.1" stroke="#dcdcdc" stroke-width="1"/><line x1="1621.5" y1="663.6" x2="1626.5" y2="663.6" stroke="#dcdcdc" stroke-width="1"/><text x="1626.5" y="678.0" font-size="11" fill="#fff" font-weight="normal" text-anchor="middle" >0</text><text x="1708.0" y="678.0" font-size="11" fill="#fff" font-weight="normal" text-anchor="middle" >200</text><text x="1789.5" y="678.0" font-size="11" fill="#fff" font-weight="normal" text-anchor="middle" >400</text><text x="1872.0" y="678.0" font-size="11" fill="#fff" font-weight="normal" text-anchor="end" >600</text><clipPath id="cp218"><rect x="20" y="699" width="305" height="301"/></clipPath><g clip-path="url(#cp218)"><path d="M172.00,875.00 L172.00,827.50 A47.5,47.5 0 1 1 155.29,919.46 Z" fill="#ee9a5f" stroke="#2a2c2e" stroke-width="0.4"/><path d="M172.00,875.00 L155.29,919.46 A47.5,47.5 0 0 1 124.55,872.93 Z" fill="#b4525b" stroke="#2a2c2e" stroke-width="0.4"/><path d="M172.00,875.00 L124.55,872.93 A47.5,47.5 0 0 1 156.93,829.95 Z" fill="#b6c95b" stroke="#2a2c2e" stroke-width="0.4"/><path d="M172.00,875.00 L156.93,829.95 A47.5,47.5 0 0 1 159.31,829.23 Z" fill="#6cc0c8" stroke="#2a2c2e" stroke-width="0.4"/><path d="M172.00,875.00 L159.31,829.23 A47.5,47.5 0 0 1 162.94,828.37 Z" fill="#2a5588" stroke="#2a2c2e" stroke-width="0.4"/><path d="M172.00,875.00 L162.94,828.37 A47.5,47.5 0 0 1 164.98,828.02 Z" fill="#8fa8c0" stroke="#2a2c2e" stroke-width="0.4"/><path d="M172.00,875.00 L164.98,828.02 A47.5,47.5 0 0 1 167.45,827.72 Z" fill="#f0d060" stroke="#2a2c2e" stroke-width="0.4"/><path d="M172.00,875.00 L167.45,827.72 A47.5,47.5 0 0 1 169.10,827.59 Z" fill="#d8b890" stroke="#2a2c2e" stroke-width="0.4"/><path d="M172.00,875.00 L169.10,827.59 A47.5,47.5 0 0 1 170.76,827.52 Z" fill="#6a4a5a" stroke="#2a2c2e" stroke-width="0.4"/><path d="M172.00,875.00 L170.76,827.52 A47.5,47.5 0 0 1 172.00,827.50 Z" fill="#d8b080" stroke="#2a2c2e" stroke-width="0.4"/><polyline points="110.0,806.6 171.9,806.6 171.9,828.0" fill="none" stroke="#5a5d61" stroke-width="1"/><polyline points="110.0,826.1 168.9,826.1 169.0,828.5" fill="none" stroke="#5a5d61" stroke-width="1"/><polyline points="110.0,845.0 157.8,830.6" fill="none" stroke="#5a5d61" stroke-width="1"/><polyline points="110.0,864.0 157.0,831.3" fill="none" stroke="#5a5d61" stroke-width="1"/><polyline points="110.0,883.0 157.0,831.3" fill="none" stroke="#5a5d61" stroke-width="1"/><polyline points="110.0,902.0 157.0,831.3" fill="none" stroke="#5a5d61" stroke-width="1"/><polyline points="110.0,921.0 157.0,831.3" fill="none" stroke="#5a5d61" stroke-width="1"/><polyline points="110.0,939.4 131.9,900.9" fill="none" stroke="#5a5d61" stroke-width="1"/><polyline points="219.5,884.0 244.0,888.0" fill="none" stroke="#5a5d61" stroke-width="1"/><text x="105.0" y="810.0" font-size="8.6" fill="#f6f6f6" font-weight="normal" text-anchor="end" stroke="#f6f6f6" stroke-width="0.2">Vostro 230</text><text x="105.0" y="829.5" font-size="8.6" fill="#f6f6f6" font-weight="normal" text-anchor="end" stroke="#f6f6f6" stroke-width="0.2">none</text><text x="105.0" y="849.0" font-size="8.6" fill="#f6f6f6" font-weight="normal" text-anchor="end" stroke="#f6f6f6" stroke-width="0.2">VirtualBox</text><text x="105.0" y="868.0" font-size="8.6" fill="#f6f6f6" font-weight="normal" text-anchor="end" stroke="#f6f6f6" stroke-width="0.2">To Be Fil...y O.E.M.</text><text x="105.0" y="887.0" font-size="8.6" fill="#f6f6f6" font-weight="normal" text-anchor="end" stroke="#f6f6f6" stroke-width="0.2">System ...ct Name</text><text x="105.0" y="906.0" font-size="8.6" fill="#f6f6f6" font-weight="normal" text-anchor="end" stroke="#f6f6f6" stroke-width="0.2">Standar...X, 1996)</text><text x="105.0" y="925.0" font-size="8.6" fill="#f6f6f6" font-weight="normal" text-anchor="end" stroke="#f6f6f6" stroke-width="0.2">VMware ... Platform</text><text x="105.0" y="944.0" font-size="8.6" fill="#f6f6f6" font-weight="normal" text-anchor="end" stroke="#f6f6f6" stroke-width="0.2">VMware7,1</text><text x="250.0" y="892.0" font-size="8.6" fill="#f6f6f6" font-weight="normal" text-anchor="start" stroke="#f6f6f6" stroke-width="0.2">HVM domU</text></g><clipPath id="cp248"><rect x="330" y="699" width="305" height="301"/></clipPath><g clip-path="url(#cp248)"><path d="M482.50,860.90 L482.50,813.50 A47.4,47.4 0 1 1 471.84,907.09 Z" fill="#b6585c" stroke="#2a2c2e" stroke-width="0.4"/><path d="M482.50,860.90 L471.84,907.09 A47.4,47.4 0 0 1 448.29,893.71 Z" fill="#7a8c9d" stroke="#2a2c2e" stroke-width="0.4"/><path d="M482.50,860.90 L448.29,893.71 A47.4,47.4 0 0 1 435.78,868.89 Z" fill="#dfd0bf" stroke="#2a2c2e" stroke-width="0.4"/><path d="M482.50,860.90 L435.78,868.89 A47.4,47.4 0 0 1 437.05,847.44 Z" fill="#3aa6c8" stroke="#2a2c2e" stroke-width="0.4"/><path d="M482.50,860.90 L437.05,847.44 A47.4,47.4 0 0 1 444.64,832.37 Z" fill="#5a6e2b" stroke="#2a2c2e" stroke-width="0.4"/><path d="M482.50,860.90 L444.64,832.37 A47.4,47.4 0 0 1 452.41,824.27 Z" fill="#ede3ae" stroke="#2a2c2e" stroke-width="0.4"/><path d="M482.50,860.90 L452.41,824.27 A47.4,47.4 0 0 1 461.13,818.59 Z" fill="#9c9888" stroke="#2a2c2e" stroke-width="0.4"/><path d="M482.50,860.90 L461.13,818.59 A47.4,47.4 0 0 1 471.92,814.70 Z" fill="#80c465" stroke="#2a2c2e" stroke-width="0.4"/><path d="M482.50,860.90 L471.92,814.70 A47.4,47.4 0 0 1 477.22,813.80 Z" fill="#e07c55" stroke="#2a2c2e" stroke-width="0.4"/><path d="M482.50,860.90 L477.22,813.80 A47.4,47.4 0 0 1 482.50,813.50 Z" fill="#8c5e4a" stroke="#2a2c2e" stroke-width="0.4"/><polyline points="420.5,794.0 458.3,794.0 466.2,815.6" fill="none" stroke="#5a5d61" stroke-width="1"/><polyline points="420.5,814.5 452.0,814.5 456.7,820.7" fill="none" stroke="#5a5d61" stroke-width="1"/><polyline points="420.5,834.0 447.3,827.9" fill="none" stroke="#5a5d61" stroke-width="1"/><polyline points="420.5,854.0 440.2,838.5" fill="none" stroke="#5a5d61" stroke-width="1"/><polyline points="420.5,874.0 435.1,857.4" fill="none" stroke="#5a5d61" stroke-width="1"/><polyline points="420.5,894.0 440.2,882.1" fill="none" stroke="#5a5d61" stroke-width="1"/><polyline points="420.5,918.5 448.0,918.5 458.3,902.2" fill="none" stroke="#5a5d61" stroke-width="1"/><polyline points="530.0,866.0 555.0,868.0" fill="none" stroke="#5a5d61" stroke-width="1"/><text x="416.0" y="797.6" font-size="9.2" fill="#f6f6f6" font-weight="normal" text-anchor="end" stroke="#f6f6f6" stroke-width="0.2">MacBookPro15,1</text><text x="416.0" y="818.1" font-size="9.2" fill="#f6f6f6" font-weight="normal" text-anchor="end" stroke="#f6f6f6" stroke-width="0.2">MacBookPro11,4</text><text x="416.0" y="837.7" font-size="9.2" fill="#f6f6f6" font-weight="normal" text-anchor="end" stroke="#f6f6f6" stroke-width="0.2">MacBookAir5,2</text><text x="416.0" y="858.2" font-size="9.2" fill="#f6f6f6" font-weight="normal" text-anchor="end" stroke="#f6f6f6" stroke-width="0.2">MacBookAir8,2</text><text x="416.0" y="877.9" font-size="9.2" fill="#f6f6f6" font-weight="normal" text-anchor="end" stroke="#f6f6f6" stroke-width="0.2">MacBookPro12,1</text><text x="416.0" y="898.3" font-size="9.2" fill="#f6f6f6" font-weight="normal" text-anchor="end" stroke="#f6f6f6" stroke-width="0.2">Macmini8,1</text><text x="416.0" y="921.9" font-size="9.2" fill="#f6f6f6" font-weight="normal" text-anchor="end" stroke="#f6f6f6" stroke-width="0.2">MacBookAir7,2</text><text x="560.0" y="871.2" font-size="9.2" fill="#f6f6f6" font-weight="normal" text-anchor="start" stroke="#f6f6f6" stroke-width="0.2">VMware7,1</text></g><clipPath id="cp276"><rect x="641" y="699" width="305" height="301"/></clipPath><g clip-path="url(#cp276)"><path d="M793.00,874.50 L793.00,827.00 A47.5,47.5 0 0 1 840.35,870.69 Z" fill="#b5575a" stroke="#2a2c2e" stroke-width="0.4"/><path d="M793.00,874.50 L840.35,870.69 A47.5,47.5 0 0 1 808.31,919.47 Z" fill="#b8ca5c" stroke="#2a2c2e" stroke-width="0.4"/><path d="M793.00,874.50 L808.31,919.47 A47.5,47.5 0 0 1 758.77,907.44 Z" fill="#c39a74" stroke="#2a2c2e" stroke-width="0.4"/><path d="M793.00,874.50 L758.77,907.44 A47.5,47.5 0 0 1 745.51,875.49 Z" fill="#72d4dc" stroke="#2a2c2e" stroke-width="0.4"/><path d="M793.00,874.50 L745.51,875.49 A47.5,47.5 0 0 1 750.91,852.49 Z" fill="#4f8f2f" stroke="#2a2c2e" stroke-width="0.4"/><path d="M793.00,874.50 L750.91,852.49 A47.5,47.5 0 0 1 765.48,835.78 Z" fill="#ee9a5b" stroke="#2a2c2e" stroke-width="0.4"/><path d="M793.00,874.50 L765.48,835.78 A47.5,47.5 0 0 1 779.83,828.86 Z" fill="#ec82b4" stroke="#2a2c2e" stroke-width="0.4"/><path d="M793.00,874.50 L779.83,828.86 A47.5,47.5 0 0 1 785.00,827.68 Z" fill="#6b2d68" stroke="#2a2c2e" stroke-width="0.4"/><path d="M793.00,874.50 L785.00,827.68 A47.5,47.5 0 0 1 790.68,827.06 Z" fill="#c4c4cc" stroke="#2a2c2e" stroke-width="0.4"/><path d="M793.00,874.50 L790.68,827.06 A47.5,47.5 0 0 1 793.00,827.00 Z" fill="#a88d3c" stroke="#2a2c2e" stroke-width="0.4"/><polyline points="731.7,806.0 791.4,806.0 791.4,827.0" fill="none" stroke="#5a5d61" stroke-width="1"/><polyline points="731.7,826.0 787.2,826.0 789.0,829.0" fill="none" stroke="#5a5d61" stroke-width="1"/><polyline points="731.7,845.0 780.3,829.2" fill="none" stroke="#5a5d61" stroke-width="1"/><polyline points="731.7,864.0 770.6,832.0" fill="none" stroke="#5a5d61" stroke-width="1"/><polyline points="731.7,883.0 753.3,851.4" fill="none" stroke="#5a5d61" stroke-width="1"/><polyline points="731.7,902.0 747.0,863.9" fill="none" stroke="#5a5d61" stroke-width="1"/><polyline points="731.7,921.0 748.9,891.7" fill="none" stroke="#5a5d61" stroke-width="1"/><polyline points="731.7,940.0 776.1,940.0 780.3,922.2" fill="none" stroke="#5a5d61" stroke-width="1"/><polyline points="826.1,838.3 838.6,824.4 865.0,824.4" fill="none" stroke="#5a5d61" stroke-width="1"/><polyline points="834.4,901.4 847.0,911.7 865.0,911.7" fill="none" stroke="#5a5d61" stroke-width="1"/><text x="725.6" y="810.8" font-size="8.6" fill="#f6f6f6" font-weight="normal" text-anchor="end" stroke="#f6f6f6" stroke-width="0.2">KVM</text><text x="725.6" y="830.2" font-size="8.6" fill="#f6f6f6" font-weight="normal" text-anchor="end" stroke="#f6f6f6" stroke-width="0.2">c5.large</text><text x="725.6" y="848.8" font-size="8.6" fill="#f6f6f6" font-weight="normal" text-anchor="end" stroke="#f6f6f6" stroke-width="0.2">Google ... Engine</text><text x="725.6" y="868.3" font-size="8.6" fill="#f6f6f6" font-weight="normal" text-anchor="end" stroke="#f6f6f6" stroke-width="0.2">S2600WF0</text><text x="725.6" y="886.9" font-size="8.6" fill="#f6f6f6" font-weight="normal" text-anchor="end" stroke="#f6f6f6" stroke-width="0.2">HVM domU</text><text x="725.6" y="906.3" font-size="8.6" fill="#f6f6f6" font-weight="normal" text-anchor="end" stroke="#f6f6f6" stroke-width="0.2">c5.2xlarge</text><text x="725.6" y="925.2" font-size="8.6" fill="#f6f6f6" font-weight="normal" text-anchor="end" stroke="#f6f6f6" stroke-width="0.2">m5.large</text><text x="725.6" y="944.1" font-size="8.6" fill="#f6f6f6" font-weight="normal" text-anchor="end" stroke="#f6f6f6" stroke-width="0.2">none</text><text x="871.0" y="828.0" font-size="8.6" fill="#f6f6f6" font-weight="normal" text-anchor="start" stroke="#f6f6f6" stroke-width="0.2">VMware7,1</text><text x="871.0" y="915.5" font-size="8.6" fill="#f6f6f6" font-weight="normal" text-anchor="start" stroke="#f6f6f6" stroke-width="0.2">VMware ... Platform</text></g><clipPath id="cp308"><rect x="951" y="699" width="305" height="301"/></clipPath><g clip-path="url(#cp308)"><path d="M1103.50,860.90 L1103.50,813.60 A47.3,47.3 0 0 1 1150.58,865.43 Z" fill="#ee9a5c" stroke="#2a2c2e" stroke-width="0.4"/><path d="M1103.50,860.90 L1150.58,865.43 A47.3,47.3 0 0 1 1111.88,907.45 Z" fill="#b8ca5c" stroke="#2a2c2e" stroke-width="0.4"/><path d="M1103.50,860.90 L1111.88,907.45 A47.3,47.3 0 0 1 1063.92,886.80 Z" fill="#b5555b" stroke="#2a2c2e" stroke-width="0.4"/><path d="M1103.50,860.90 L1063.92,886.80 A47.3,47.3 0 0 1 1057.43,850.18 Z" fill="#c59c76" stroke="#2a2c2e" stroke-width="0.4"/><path d="M1103.50,860.90 L1057.43,850.18 A47.3,47.3 0 0 1 1069.08,828.46 Z" fill="#6fd3dc" stroke="#2a2c2e" stroke-width="0.4"/><path d="M1103.50,860.90 L1069.08,828.46 A47.3,47.3 0 0 1 1083.51,818.03 Z" fill="#4e8e2f" stroke="#2a2c2e" stroke-width="0.4"/><path d="M1103.50,860.90 L1083.51,818.03 A47.3,47.3 0 0 1 1092.94,814.79 Z" fill="#ee83b4" stroke="#2a2c2e" stroke-width="0.4"/><path d="M1103.50,860.90 L1092.94,814.79 A47.3,47.3 0 0 1 1097.00,814.05 Z" fill="#6c2d66" stroke="#2a2c2e" stroke-width="0.4"/><path d="M1103.50,860.90 L1097.00,814.05 A47.3,47.3 0 0 1 1101.02,813.66 Z" fill="#c0c0c8" stroke="#2a2c2e" stroke-width="0.4"/><path d="M1103.50,860.90 L1101.02,813.66 A47.3,47.3 0 0 1 1103.50,813.60 Z" fill="#f2d64a" stroke="#2a2c2e" stroke-width="0.4"/><polyline points="1041.7,793.0 1101.4,793.0 1101.4,813.0" fill="none" stroke="#5a5d61" stroke-width="1"/><polyline points="1041.7,812.0 1098.6,812.0 1099.0,815.0" fill="none" stroke="#5a5d61" stroke-width="1"/><polyline points="1041.7,831.0 1083.3,818.0" fill="none" stroke="#5a5d61" stroke-width="1"/><polyline points="1041.7,850.0 1066.7,830.6" fill="none" stroke="#5a5d61" stroke-width="1"/><polyline points="1041.7,869.0 1059.7,841.7" fill="none" stroke="#5a5d61" stroke-width="1"/><polyline points="1041.7,888.0 1056.9,858.3" fill="none" stroke="#5a5d61" stroke-width="1"/><polyline points="1041.7,907.0 1056.1,869.4" fill="none" stroke="#5a5d61" stroke-width="1"/><polyline points="1041.7,925.0 1074.4,925.0 1083.3,905.6" fill="none" stroke="#5a5d61" stroke-width="1"/><polyline points="1138.9,828.3 1154.2,815.3 1175.0,815.3" fill="none" stroke="#5a5d61" stroke-width="1"/><polyline points="1138.9,893.9 1152.2,907.0 1175.0,907.0" fill="none" stroke="#5a5d61" stroke-width="1"/><text x="1035.6" y="796.9" font-size="8.6" fill="#f6f6f6" font-weight="normal" text-anchor="end" stroke="#f6f6f6" stroke-width="0.2">VirtualBox</text><text x="1035.6" y="816.3" font-size="8.6" fill="#f6f6f6" font-weight="normal" text-anchor="end" stroke="#f6f6f6" stroke-width="0.2">c5.large</text><text x="1035.6" y="834.9" font-size="8.6" fill="#f6f6f6" font-weight="normal" text-anchor="end" stroke="#f6f6f6" stroke-width="0.2">Google ... Engine</text><text x="1035.6" y="854.4" font-size="8.6" fill="#f6f6f6" font-weight="normal" text-anchor="end" stroke="#f6f6f6" stroke-width="0.2">S2600WF0</text><text x="1035.6" y="873.0" font-size="8.6" fill="#f6f6f6" font-weight="normal" text-anchor="end" stroke="#f6f6f6" stroke-width="0.2">c5.2xlarge</text><text x="1035.6" y="891.9" font-size="8.6" fill="#f6f6f6" font-weight="normal" text-anchor="end" stroke="#f6f6f6" stroke-width="0.2">m5.large</text><text x="1035.6" y="910.8" font-size="8.6" fill="#f6f6f6" font-weight="normal" text-anchor="end" stroke="#f6f6f6" stroke-width="0.2">none</text><text x="1035.6" y="929.4" font-size="8.6" fill="#f6f6f6" font-weight="normal" text-anchor="end" stroke="#f6f6f6" stroke-width="0.2">VMware7,1</text><text x="1181.0" y="818.3" font-size="8.6" fill="#f6f6f6" font-weight="normal" text-anchor="start" stroke="#f6f6f6" stroke-width="0.2">HVM domU</text><text x="1181.0" y="910.8" font-size="8.6" fill="#f6f6f6" font-weight="normal" text-anchor="start" stroke="#f6f6f6" stroke-width="0.2">VMware ... Platform</text></g><clipPath id="cp340"><rect x="1262" y="699" width="305" height="301"/></clipPath><g clip-path="url(#cp340)"><path d="M1414.70,875.00 L1414.70,827.00 A48,48 0 1 1 1378.15,906.11 Z" fill="#a3d563" stroke="#2a2c2e" stroke-width="0.4"/><path d="M1414.70,875.00 L1378.15,906.11 A48,48 0 0 1 1366.85,878.77 Z" fill="#7a70ab" stroke="#2a2c2e" stroke-width="0.4"/><path d="M1414.70,875.00 L1366.85,878.77 A48,48 0 0 1 1368.54,861.85 Z" fill="#1e4f92" stroke="#2a2c2e" stroke-width="0.4"/><path d="M1414.70,875.00 L1368.54,861.85 A48,48 0 0 1 1375.14,847.81 Z" fill="#7db4d8" stroke="#2a2c2e" stroke-width="0.4"/><path d="M1414.70,875.00 L1375.14,847.81 A48,48 0 0 1 1383.34,838.66 Z" fill="#a5d8c0" stroke="#2a2c2e" stroke-width="0.4"/><path d="M1414.70,875.00 L1383.34,838.66 A48,48 0 0 1 1392.76,832.31 Z" fill="#f7c9a6" stroke="#2a2c2e" stroke-width="0.4"/><path d="M1414.70,875.00 L1392.76,832.31 A48,48 0 0 1 1399.63,829.43 Z" fill="#dba8aa" stroke="#2a2c2e" stroke-width="0.4"/><path d="M1414.70,875.00 L1399.63,829.43 A48,48 0 0 1 1404.80,828.03 Z" fill="#e6e6ae" stroke="#2a2c2e" stroke-width="0.4"/><path d="M1414.70,875.00 L1404.80,828.03 A48,48 0 0 1 1410.52,827.18 Z" fill="#b1d7e6" stroke="#2a2c2e" stroke-width="0.4"/><path d="M1414.70,875.00 L1410.52,827.18 A48,48 0 0 1 1413.02,827.03 Z" fill="#a0a8b8" stroke="#2a2c2e" stroke-width="0.4"/><path d="M1414.70,875.00 L1413.02,827.03 A48,48 0 0 1 1414.70,827.00 Z" fill="#8c9aab" stroke="#2a2c2e" stroke-width="0.4"/><polyline points="1352.2,806.0 1403.6,806.0 1406.4,828.3" fill="none" stroke="#5a5d61" stroke-width="1"/><polyline points="1352.2,826.0 1400.8,826.0 1401.0,829.0" fill="none" stroke="#5a5d61" stroke-width="1"/><polyline points="1352.2,845.0 1390.6,832.8" fill="none" stroke="#5a5d61" stroke-width="1"/><polyline points="1352.2,864.0 1376.7,844.4" fill="none" stroke="#5a5d61" stroke-width="1"/><polyline points="1352.2,883.0 1369.7,855.6" fill="none" stroke="#5a5d61" stroke-width="1"/><polyline points="1352.2,902.0 1366.9,862.5" fill="none" stroke="#5a5d61" stroke-width="1"/><polyline points="1352.2,921.0 1367.8,870.0" fill="none" stroke="#5a5d61" stroke-width="1"/><polyline points="1352.2,940.0 1371.1,894.4" fill="none" stroke="#5a5d61" stroke-width="1"/><polyline points="1459.4,895.8 1475.3,903.3 1488.0,903.3" fill="none" stroke="#5a5d61" stroke-width="1"/><text x="1346.7" y="810.8" font-size="8.6" fill="#f6f6f6" font-weight="normal" text-anchor="end" stroke="#f6f6f6" stroke-width="0.2">Microso...poration</text><text x="1346.7" y="830.2" font-size="8.6" fill="#f6f6f6" font-weight="normal" text-anchor="end" stroke="#f6f6f6" stroke-width="0.2">Liteon T...poration</text><text x="1346.7" y="848.8" font-size="8.6" fill="#f6f6f6" font-weight="normal" text-anchor="end" stroke="#f6f6f6" stroke-width="0.2">Intel Corporate</text><text x="1346.7" y="868.3" font-size="8.6" fill="#f6f6f6" font-weight="normal" text-anchor="end" stroke="#f6f6f6" stroke-width="0.2">ASUSTe...ER INC.</text><text x="1346.7" y="886.9" font-size="8.6" fill="#f6f6f6" font-weight="normal" text-anchor="end" stroke="#f6f6f6" stroke-width="0.2">Hon Hai .... Co.,Ltd.</text><text x="1346.7" y="905.8" font-size="8.6" fill="#f6f6f6" font-weight="normal" text-anchor="end" stroke="#f6f6f6" stroke-width="0.2">Hewlett Packard</text><text x="1346.7" y="925.2" font-size="8.6" fill="#f6f6f6" font-weight="normal" text-anchor="end" stroke="#f6f6f6" stroke-width="0.2">Microsoft</text><text x="1346.7" y="944.1" font-size="8.6" fill="#f6f6f6" font-weight="normal" text-anchor="end" stroke="#f6f6f6" stroke-width="0.2">Apple, Inc.</text><text x="1492.0" y="907.2" font-size="8.6" fill="#f6f6f6" font-weight="normal" text-anchor="start" stroke="#f6f6f6" stroke-width="0.2">VMware, Inc.</text></g><clipPath id="cp371"><rect x="1572" y="699" width="310" height="301"/></clipPath><g clip-path="url(#cp371)"><path d="M1726.00,859.50 L1726.00,811.50 A48,48 0 1 1 1692.06,825.56 Z" fill="#bcc3cf" stroke="#2a2c2e" stroke-width="0.4"/><path d="M1726.00,859.50 L1692.06,825.56 A48,48 0 0 1 1695.79,822.20 Z" fill="#f6e393" stroke="#2a2c2e" stroke-width="0.4"/><path d="M1726.00,859.50 L1695.79,822.20 A48,48 0 0 1 1698.47,820.18 Z" fill="#efcfb2" stroke="#2a2c2e" stroke-width="0.4"/><path d="M1726.00,859.50 L1698.47,820.18 A48,48 0 0 1 1701.28,818.36 Z" fill="#cdbae6" stroke="#2a2c2e" stroke-width="0.4"/><path d="M1726.00,859.50 L1701.28,818.36 A48,48 0 0 1 1703.47,817.12 Z" fill="#b4acd6" stroke="#2a2c2e" stroke-width="0.4"/><path d="M1726.00,859.50 L1703.47,817.12 A48,48 0 0 1 1706.48,815.65 Z" fill="#b5dcae" stroke="#2a2c2e" stroke-width="0.4"/><path d="M1726.00,859.50 L1706.48,815.65 A48,48 0 0 1 1710.37,814.12 Z" fill="#8680b8" stroke="#2a2c2e" stroke-width="0.4"/><path d="M1726.00,859.50 L1710.37,814.12 A48,48 0 0 1 1712.77,813.36 Z" fill="#c5cde4" stroke="#2a2c2e" stroke-width="0.4"/><path d="M1726.00,859.50 L1712.77,813.36 A48,48 0 0 1 1715.20,812.73 Z" fill="#f2e6ec" stroke="#2a2c2e" stroke-width="0.4"/><path d="M1726.00,859.50 L1715.20,812.73 A48,48 0 0 1 1718.49,812.09 Z" fill="#5ccad6" stroke="#2a2c2e" stroke-width="0.4"/><path d="M1726.00,859.50 L1718.49,812.09 A48,48 0 0 1 1720.98,811.76 Z" fill="#d8e8e0" stroke="#2a2c2e" stroke-width="0.4"/><path d="M1726.00,859.50 L1720.98,811.76 A48,48 0 0 1 1723.49,811.57 Z" fill="#4db8b8" stroke="#2a2c2e" stroke-width="0.4"/><path d="M1726.00,859.50 L1723.49,811.57 A48,48 0 0 1 1726.00,811.50 Z" fill="#d0d4a8" stroke="#2a2c2e" stroke-width="0.4"/><polyline points="1664.4,792.0 1725.0,792.0 1725.0,813.0" fill="none" stroke="#5a5d61" stroke-width="1"/><polyline points="1664.4,811.0 1721.4,811.0 1722.0,814.0" fill="none" stroke="#5a5d61" stroke-width="1"/><polyline points="1664.4,830.0 1702.8,818.1" fill="none" stroke="#5a5d61" stroke-width="1"/><polyline points="1664.4,849.0 1692.2,826.4" fill="none" stroke="#5a5d61" stroke-width="1"/><polyline points="1664.4,868.0 1695.0,829.2" fill="none" stroke="#5a5d61" stroke-width="1"/><polyline points="1664.4,887.0 1694.0,830.0" fill="none" stroke="#5a5d61" stroke-width="1"/><polyline points="1664.4,906.0 1693.0,832.0" fill="none" stroke="#5a5d61" stroke-width="1"/><polyline points="1664.4,925.0 1692.0,834.0" fill="none" stroke="#5a5d61" stroke-width="1"/><polyline points="1745.0,906.1 1752.8,923.6 1800.0,923.6" fill="none" stroke="#5a5d61" stroke-width="1"/><text x="1658.3" y="796.1" font-size="8.6" fill="#f6f6f6" font-weight="normal" text-anchor="end" stroke="#f6f6f6" stroke-width="0.2">Synolog...rporated</text><text x="1658.3" y="814.9" font-size="8.6" fill="#f6f6f6" font-weight="normal" text-anchor="end" stroke="#f6f6f6" stroke-width="0.2">Sagemc...and SAS</text><text x="1658.3" y="834.1" font-size="8.6" fill="#f6f6f6" font-weight="normal" text-anchor="end" stroke="#f6f6f6" stroke-width="0.2">Samsun...s Co.,Ltd</text><text x="1658.3" y="853.0" font-size="8.6" fill="#f6f6f6" font-weight="normal" text-anchor="end" stroke="#f6f6f6" stroke-width="0.2">Apple, Inc.</text><text x="1658.3" y="871.9" font-size="8.6" fill="#f6f6f6" font-weight="normal" text-anchor="end" stroke="#f6f6f6" stroke-width="0.2">Google, Inc.</text><text x="1658.3" y="891.1" font-size="8.6" fill="#f6f6f6" font-weight="normal" text-anchor="end" stroke="#f6f6f6" stroke-width="0.2">Roku, Inc.</text><text x="1658.3" y="909.9" font-size="8.6" fill="#f6f6f6" font-weight="normal" text-anchor="end" stroke="#f6f6f6" stroke-width="0.2">Amazon ...gies Inc.</text><text x="1658.3" y="928.8" font-size="8.6" fill="#f6f6f6" font-weight="normal" text-anchor="end" stroke="#f6f6f6" stroke-width="0.2">Sonos, Inc.</text><text x="1804.7" y="928.0" font-size="8.6" fill="#f6f6f6" font-weight="normal" text-anchor="start" stroke="#f6f6f6" stroke-width="0.2">NA</text></g></svg>
</body></html>
